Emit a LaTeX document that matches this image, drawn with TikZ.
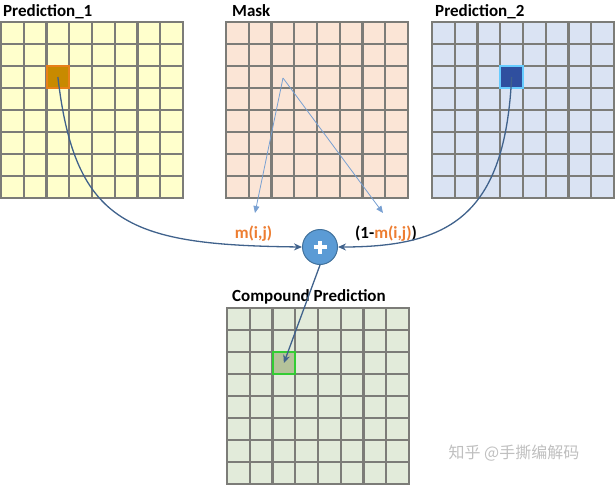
\documentclass[tikz,border=0pt]{standalone}
\usepackage{fontspec}
\setmainfont{Carlito}
\newfontfamily\cjk{Noto Sans CJK SC}
\usepackage{xcolor}
\usetikzlibrary{arrows.meta}
\definecolor{predAfill}{RGB}{255,255,204}
\definecolor{maskfill}{RGB}{251,229,214}
\definecolor{predBfill}{RGB}{218,227,243}
\definecolor{compfill}{RGB}{226,235,218}
\definecolor{gridgray}{RGB}{124,124,120}
\definecolor{cellAfill}{RGB}{200,138,0}
\definecolor{cellAedge}{RGB}{232,128,26}
\definecolor{cellBfill}{RGB}{47,79,159}
\definecolor{cellBedge}{RGB}{102,204,255}
\definecolor{cellCfill}{RGB}{180,194,154}
\definecolor{cellCedge}{RGB}{51,204,51}
\definecolor{curveblue}{RGB}{64,98,140}
\definecolor{maskarrow}{RGB}{120,160,210}
\definecolor{plusblue}{RGB}{91,155,213}
\definecolor{plusedge}{RGB}{65,113,156}
\definecolor{labelorange}{RGB}{237,125,49}

\begin{document}
\begin{tikzpicture}[x=1pt,y=-1pt,
  gridline/.style={gridgray,line width=2.3pt,line cap=rect},
  title/.style={anchor=base west,font=\fontsize{17}{20}\selectfont\bfseries,inner sep=0pt},
  lbl/.style={font=\fontsize{17}{20}\selectfont\bfseries,inner sep=0pt},
  hicell/.style={minimum width=22.75pt,minimum height=22pt,inner sep=0pt,line width=2pt},
  flow/.style={curveblue,line width=1.3pt,-{Stealth[length=8pt,width=7pt]}},
  maskflow/.style={maskarrow,line width=0.8pt,-{Triangle[length=7pt,width=6pt]}}]
\useasboundingbox (0,0) rectangle (615,485);
\foreach \gx/\gy/\gcol in {1/22/predAfill,226/22/maskfill,432/22/predBfill,227/308/compfill}{
  \fill[\gcol] (\gx,\gy) rectangle ++(182,176);
  \foreach \i in {0,...,8}{
    \draw[gridline] (\gx+\i*22.75,\gy) -- ++(0,176);
    \draw[gridline] (\gx,\gy+\i*22) -- ++(182,0);
  }
}
\node[title] (t1) at (3,16) {Prediction\_1};
\node[title] (t2) at (232,16) {Mask};
\node[title] (t3) at (435,16) {Prediction\_2};
\node[title] (t4) at (232,301.5) {Compound Prediction};
\node[hicell,fill=cellAfill,draw=cellAedge] (cellA) at (57.875,77) {};
\node[hicell,fill=cellBfill,draw=cellBedge] (cellB) at (511.625,77) {};
\node[hicell,fill=cellCfill,draw=cellCedge] (cellC) at (283.875,363) {};
\node[circle,fill=plusblue,draw=plusedge,line width=1pt,minimum size=35pt,inner sep=0pt,
  path picture={\draw[white,line width=4pt] (path picture bounding box.center) ++(-6.5pt,0pt) -- ++(13pt,0pt);
    \draw[white,line width=4pt] (path picture bounding box.center) ++(0pt,-6.5pt) -- ++(0pt,13pt);}] (plus) at (320,247) {};
\coordinate (maskpt) at (283,78);
\coordinate (mL) at (255,213);
\coordinate (mR) at (383,213);
\draw[maskflow] (maskpt) -- (mL);
\draw[maskflow] (maskpt) -- (mR);
\node[lbl,text=labelorange] (mlab) at (253.5,234) {m(i,j)};
\node[lbl] (onemlab) at (386,234) {(1-\textcolor{labelorange}{m(i,j)})};
\draw[flow] (cellA.center) .. controls (75,225) and (130,245) .. (plus.west);
\draw[flow] (cellB.center) .. controls (505,215) and (450,247) .. (plus.east);
\draw[flow] (plus.south) -- (cellC.center);
\node[text=black!25,font=\cjk\fontsize{16}{16}\selectfont,anchor=west] (wm) at (445,453) {知乎 @手撕编解码};
\end{tikzpicture}
\end{document}
